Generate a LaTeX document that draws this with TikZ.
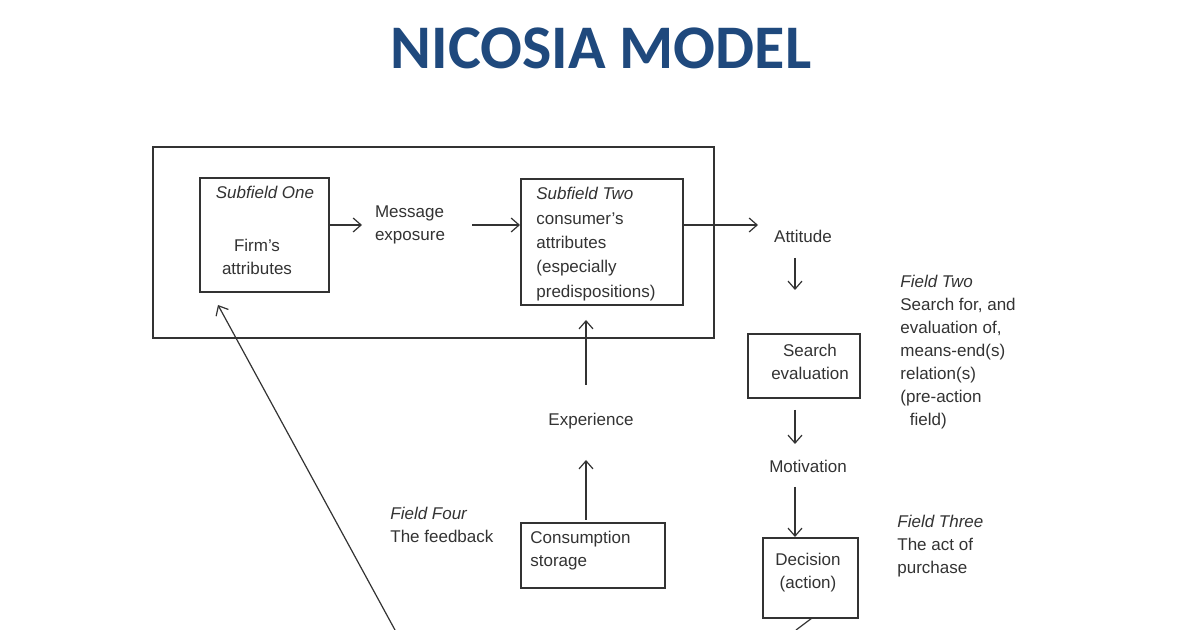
\documentclass[tikz,border=0pt]{standalone}
\usepackage{fontspec}
\setmainfont{Liberation Sans}
\newfontfamily\titlefont{Carlito}
\usetikzlibrary{arrows.meta}
\definecolor{titleblue}{HTML}{1F497D}
\definecolor{ink}{HTML}{333333}
\begin{document}
\begin{tikzpicture}[x=0.5pt,y=-0.5pt,
  every node/.style={text=ink,font=\fontsize{8.5}{11.5}\selectfont,inner sep=0pt},
  box/.style={draw=ink,line width=0.6pt},
  arr/.style={draw=ink,line width=0.6pt,-{Straight Barb[length=4pt,width=7pt]}},
  lbl/.style={align=left,anchor=west}]
\useasboundingbox (0,0) rectangle (1200,630);
\fill[white] (0,0) rectangle (1200,630);
\node[text=titleblue,font=\titlefont\bfseries\fontsize{31}{34}\selectfont] (title) at (601,48) {NICOSIA MODEL};
\draw[box] (153,147) rectangle (714,338);
\draw[box] (200,178) rectangle (329,292);
\coordinate (s1e) at (329,225);
\node (s1t) at (265,192) {\itshape Subfield One};
\node[align=center] (s1b) at (257,257) {Firm's\\attributes};
\node[align=left] (msg) at (410,225) {Message\\exposure};
\draw[box] (521,179) rectangle (683,305);
\node[lbl,align=left,anchor=north west,font=\fontsize{8.5}{12.2}\selectfont] (s2) at (536,187) {\itshape Subfield Two\\consumer's\\attributes\\(especially\\predispositions)};
\node (att) at (803,236) {Attitude};
\node[lbl,anchor=north west,font=\fontsize{8.5}{11.5}\selectfont] (f2) at (900,275) {\itshape Field Two\\Search for, and\\evaluation of,\\means-end(s)\\relation(s)\\(pre-action\\\ \ field)};
\draw[box] (748,334) rectangle (860,398);
\node[align=center] (se) at (810,362) {Search\\evaluation};
\node (mot) at (808,466) {Motivation};
\draw[box] (763,538) rectangle (858,618);
\node[align=center] (dec) at (808,573) {Decision\\(action)};
\node[lbl,anchor=north west] (f3) at (897,515) {\itshape Field Three\\The act of\\purchase};
\draw[box] (521,523) rectangle (665,588);
\node[lbl,anchor=north west] (cs) at (530,531) {Consumption\\storage};
\node[lbl,anchor=north west] (f4) at (390,507) {\itshape Field Four\\The feedback};
\node (exp) at (591,421) {Experience};
\coordinate (a1) at (362,225); \coordinate (a2) at (472,225); \coordinate (a3) at (520,225);
\coordinate (a4) at (683,225); \coordinate (a5) at (758,225);
\draw[arr] (s1e) -- (a1);
\draw[arr] (a2) -- (a3);
\draw[arr] (a4) -- (a5);
\coordinate (v1) at (795,258); \coordinate (v2) at (795,290);
\draw[arr] (v1) -- (v2);
\coordinate (v3) at (795,410); \coordinate (v4) at (795,444);
\draw[arr] (v3) -- (v4);
\coordinate (v5) at (795,487); \coordinate (v6) at (795,537);
\draw[arr] (v5) -- (v6);
\coordinate (d1) at (812,618); \coordinate (d2) at (796,630);
\draw[box] (d1) -- (d2);
\coordinate (u1) at (586,520); \coordinate (u2) at (586,460);
\draw[arr] (u1) -- (u2);
\coordinate (u3) at (586,385); \coordinate (u4) at (586,320);
\draw[arr] (u3) -- (u4);
\coordinate (l1) at (395,630); \coordinate (l2) at (218,305);
\draw[arr] (l1) -- (l2);
\end{tikzpicture}
\end{document}
